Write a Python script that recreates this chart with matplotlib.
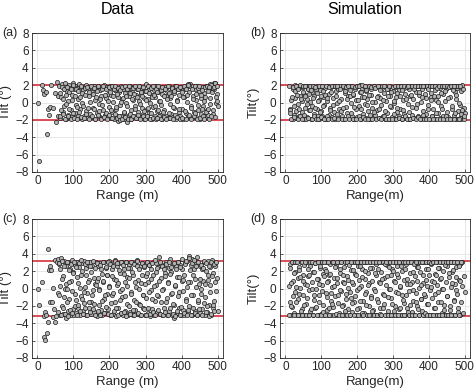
import matplotlib
matplotlib.use("Agg")
import matplotlib.pyplot as plt
import numpy as np

plt.rcParams['font.family'] = ['Liberation Sans', 'DejaVu Sans']

# ---- panel (a): measured tilt, threshold +-2 ----
a_range = [2, 4, 14, 16, 19, 24, 27, 29, 31, 34, 38, 44, 48, 52, 54, 56, 58,
           61, 63, 66, 68, 71, 73, 75, 77, 80, 82, 84, 86, 88, 91, 93, 95, 97, 99,
           101, 103, 105, 107, 110, 112, 114, 116, 118, 121, 123, 125, 127, 130, 132, 134, 136, 139, 141, 143, 146, 148,
           150, 152, 154, 157, 159, 161, 163, 166, 168, 170, 172, 174, 177, 179, 181, 183, 186, 188, 190, 192, 195, 197, 199,
           201, 203, 205, 207, 209, 211, 213, 215, 217, 219, 221, 223, 225, 227, 229, 231, 233, 235, 237, 239, 241, 243, 245, 247, 249,
           251, 253, 255, 257, 259, 261, 263, 265, 267, 269, 271, 273, 275, 277, 279, 281, 283, 285, 287, 289, 291, 293, 295, 297, 299,
           301, 303, 305, 307, 309, 311, 313, 315, 317, 319, 321, 323, 325, 327, 329, 331, 333, 335, 337, 339, 341, 343, 345, 347, 349,
           351, 353, 356, 358, 360, 362, 365, 367, 369, 371, 374, 376, 378, 380, 383, 385, 387, 389, 392, 394, 396, 398,
           401, 403, 405, 408, 410, 412, 414, 417, 419, 421, 423, 426, 428, 430, 432, 435, 437, 439, 441, 444, 446, 448,
           451, 453, 455, 457, 460, 462, 464, 466, 469, 471, 473, 475, 478, 480, 482, 484, 487, 489, 491, 493, 495, 497, 499] + \
          [62, 64, 66, 68, 70, 72, 74, 76, 78, 80,
           83, 85, 87, 89, 92, 94, 96, 98, 100, 102,
           104, 106, 109, 111, 113, 115, 117, 120, 122, 124,
           126, 128, 131, 133, 135, 137, 140, 142, 144, 147,
           149, 151, 153, 156, 158, 160, 162, 165, 167, 169,
           171, 173, 176, 178, 180, 182, 185, 187, 189, 191,
           194, 196, 198, 200, 202, 204, 206, 208, 210, 212,
           214, 216, 218, 220, 222, 224, 226, 228, 230, 232,
           234, 236, 238, 240, 242, 244, 246, 248, 250, 252,
           254, 256, 258, 260, 262, 264, 266, 268, 270, 272,
           274, 276, 278, 280, 282, 284, 286, 288, 290, 292,
           294, 296, 298, 300, 302, 304, 306, 308, 310, 312,
           314, 316, 318, 320, 322, 324, 326, 328, 330, 332,
           334, 336, 338, 340, 342, 344, 346, 348, 350, 352,
           355, 357, 359, 361, 364, 366, 368, 370, 373, 375,
           377, 379, 382, 384, 386, 388, 391, 393, 395, 397,
           400, 402, 404, 407, 409, 411, 413, 416, 418, 420,
           422, 425, 427, 429, 431, 434, 436, 438, 440, 443,
           445, 447, 449, 452, 454, 456, 459, 461, 463, 465,
           468, 470, 472, 474, 477, 479, 481, 483, 486, 488,
           490, 492, 494, 496, 498, 500, 458, 476, 418, 332]
a_tilt = [0.0, -6.7, 2.0, 1.4, 1.0, 1.2, -3.6, -0.8, -1.4, -0.5, 2.0, -0.6, 1.1, -2.2, 2.4, -1.6, 0.8,
          1.9, -1.8, 0.6, 2.1, -1.1, 1.6, -0.4, 2.2, -1.9, 1.3, 0.2, -1.4, 2.0, 1.7, -0.9, 0.9, -1.7, 2.3,
          1.5, -1.2, 1.9, -0.3, 1.7, -1.6, 0.4, 2.1, -0.8, 1.8, -1.9, 0.0, 1.4, -1.5, 1.9, -1.0, 2.0, -1.8, 1.6, 0.7, -1.3, 1.8,
          -1.7, 1.2, -0.6, 1.9, -1.9, 0.3, 1.6, -1.2, 1.9, -0.2, -1.6, 1.4, 0.8, -1.8, 1.7, -0.9, 2.0, -1.4, 0.5, 1.8, -1.7, 1.0, -0.5,
          1.9, -1.8, 0.9, -1.1, 1.7, 0.1, -1.9, 1.4, -0.7, 1.8, -1.5, 0.6, -2.1, 1.2, -0.3, 1.9, -1.6, 0.4, 1.6, -1.2, -1.9, 1.1, 0.0, 1.8, -2.2,
          1.5, -1.4, 0.7, 1.9, -0.9, -1.9, 1.2, 0.3, -1.6, 1.8, -0.4, 0.9, -1.8, 1.6, -1.1, 0.2, 1.9, -1.7, 1.0, -0.6, 1.7, -1.3, 0.5, -1.9, 1.3,
          2.1, -0.8, -1.7, 0.4, 1.6, -1.2, 0.0, 1.8, -1.9, 0.9, -0.5, 1.4, -1.6, 0.6, 1.9, -1.0, -1.8, 1.2, 0.2, -1.4, 1.7, -0.3, 1.0, -1.9, 1.5,
          -0.9, 1.8, -1.5, 0.7, 1.3, -1.8, 1.9, -0.2, 0.5, -1.3, 1.6, -1.7, 1.1, -0.6, 1.9, -1.9, 0.3, 1.5, -1.1, 0.9, -1.6, 1.8,
          -0.7, 1.4, -1.9, 0.6, 1.7, -1.2, 0.1, 2.0, -1.5, 1.2, 2.1, -0.4, -1.8, 1.9, 0.8, -1.1, 1.6, -1.7, 0.3, 1.9, -0.9, 1.3,
          -1.9, 0.5, -1.3, 1.8, -0.4, 1.1, -1.6, 0.6, 1.9, -0.9, -1.4, 1.6, 2.1, -0.2, 1.8, 1.2, -1.3, 2.2, 1.5, 2.3, -0.1, 1.0, 0.2] + \
         [-1.6, 1.1, -0.9, 1.8, -1.3, 0.4, 1.5, -1.9, 0.9, -0.2,
          1.8, -1.6, 1.2, -0.7, -1.9, 1.6, 0.3, -1.2, 2.0, -1.8,
          0.8, 1.6, -0.5, -1.9, 1.3, -1.1, 0.6, 1.9, -1.7, 1.1,
          -0.4, -1.8, 1.7, 0.9, -1.3, 1.8, -0.6, -1.9, 1.2, 0.1,
          1.9, -1.5, 1.0, -0.8, 1.7, -1.9, 0.6, 1.3, -1.4, 1.9,
          -1.0, 0.4, -1.9, 1.6, -0.3, 1.9, -1.7, 0.9, -1.2, 1.5,
          -1.9, 0.2, 1.8, -1.4, 1.2, -0.9, 1.9, -1.8, 0.7, 1.5,
          -1.3, 1.9, -0.5, -1.8, 1.0, 1.7, -1.5, -2.0, 1.4, 0.1,
          -1.9, 1.8, 0.5, -1.1, 1.9, -1.7, 0.8, -0.4, 1.6, -1.9,
          1.9, -1.3, 1.1, -1.9, 0.4, 1.7, -1.6, 1.0, -0.8, 1.9,
          -1.8, 0.6, 1.5, -1.4, 1.9, -0.2, -1.9, 1.2, 0.8, -1.6,
          1.8, -1.0, -1.9, 1.3, 0.3, -1.5, 1.9, -0.6, 1.1, -1.9,
          1.7, -1.2, 0.6, 1.9, -1.8, 0.9, -0.4, 1.6, -1.9, 1.2,
          -0.9, 1.9, -1.6, 0.2, 1.4, -1.9, 1.8, -1.1, 0.7, -1.7,
          1.6, -1.9, 0.4, 1.9, -1.2, 1.1, -1.8, 0.8, 1.7, -0.5,
          -1.9, 1.3, -1.4, 1.9, 0.2, -1.7, 1.6, -0.7, -1.9, 1.8,
          1.2, -1.8, 0.6, 1.9, -1.0, 1.6, -1.9, 0.9, 2.1, -1.4,
          1.9, -0.6, -1.9, 1.5, 0.4, -1.6, 1.9, -1.2, 1.0, -1.9,
          1.7, -0.3, 1.9, -1.8, 0.9, 1.4, -1.6, 0.2, -1.9, 1.8,
          -1.1, 1.9, -0.8, 1.3, -1.9, 0.5, 2.0, -1.5, 1.7, -0.9,
          1.8, 2.2, -1.7, 0.6, 1.9, -0.4, -0.7, 1.8, 2.0, -1.8]

# ---- panel (b): simulated tilt, threshold +-2 ----
b_range = [12, 14, 17, 20, 22, 24, 26, 28, 30, 33, 35, 37, 39, 41, 43, 45, 47, 49, 51, 53, 55, 57, 59,
           61, 63, 65, 67, 69, 71, 73, 75, 77, 79, 81, 83, 85, 87, 89, 91, 93, 95, 97, 99, 101, 103, 105, 107, 109,
           111, 114, 116, 118, 121, 123, 125, 128, 130, 132, 135, 137, 139, 142, 144, 146, 149, 151, 153, 156, 158,
           161, 163, 166, 168, 170, 172, 175, 177, 179, 182, 184, 186, 189, 191, 193, 196, 198, 200, 203, 205, 207, 209,
           211, 213, 215, 217, 220, 222, 224, 226, 229, 231, 233, 235, 238, 240, 242, 244, 247, 249, 251, 253, 256, 258,
           261, 263, 265, 268, 270, 272, 275, 277, 279, 282, 284, 286, 289, 291, 293, 296, 298, 300, 303, 305, 307, 309,
           311, 313, 316, 318, 320, 323, 325, 327, 330, 332, 334, 337, 339, 341, 344, 346, 348, 351, 353, 355, 358,
           361, 363, 365, 368, 370, 372, 375, 377, 379, 382, 384, 386, 389, 391, 393, 396, 398, 400, 403, 405, 407, 409,
           411, 413, 416, 418, 420, 423, 425, 427, 430, 432, 434, 437, 439, 441, 444, 446, 448, 451, 453, 455, 458,
           461, 463, 466, 468, 470, 473, 475, 477, 480, 482, 484, 487, 489, 491, 494, 496, 498, 500] + \
          [10, 13, 15, 18, 21, 23, 25, 27, 29, 31,
           32, 34, 36, 38, 40, 42, 44, 46, 48, 50,
           52, 54, 56, 58, 60, 62, 64, 66, 68, 70,
           72, 74, 76, 78, 80, 82, 84, 86, 88, 90,
           92, 94, 96, 98, 100, 102, 104, 106, 108, 110,
           113, 115, 117, 120, 122, 124, 127, 129, 131, 134,
           136, 138, 141, 143, 145, 148, 150, 152, 155, 157,
           160, 162, 165, 167, 169, 171, 174, 176, 178, 181,
           183, 185, 188, 190, 192, 195, 197, 199, 202, 204,
           206, 208, 210, 212, 214, 216, 219, 221, 223, 225,
           228, 230, 232, 234, 237, 239, 241, 243, 246, 248,
           250, 252, 255, 257, 260, 262, 264, 267, 269, 271,
           274, 276, 278, 281, 283, 285, 288, 290, 292, 295,
           297, 299, 302, 304, 306, 308, 310, 312, 315, 317,
           319, 322, 324, 326, 329, 331, 333, 336, 338, 340,
           343, 345, 347, 350, 352, 354, 357, 359, 362, 364,
           366, 369, 371, 373, 376, 378, 381, 383, 385, 388,
           390, 392, 395, 397, 399, 402, 404, 406, 408, 410,
           412, 415, 417, 419, 422, 424, 426, 429, 431, 433,
           436, 438, 440, 443, 445, 447, 450, 452, 454, 457,
           459, 462, 465, 467, 469, 472, 474, 476, 479, 481,
           483, 486, 488, 490, 493, 495, 497, 499, 485, 470]
b_tilt = [-0.7, -0.9, 0.3, -1.9, 1.6, -1.4, 2.0, 0.5, -1.8, 1.9, -0.2, 1.7, -1.6, 0.8, 1.9, -1.1, 0.2, 1.8, -1.9, 1.0, -0.6, 1.9, 0.4,
          -1.7, 1.5, -0.9, 1.9, 0.1, -1.9, 1.2, -0.4, 1.8, -1.3, 0.7, -1.8, 1.6, -0.7, 1.9, -1.5, 0.3, -1.9, 1.4, -1.0, 1.9, -1.6, 0.6, -0.3, -1.8,
          1.7, -1.9, 0.2, 1.9, -1.4, 1.0, -0.6, 1.8, -1.7, 0.5, 1.9, -1.1, -1.9, 1.3, 0.0, 1.6, -0.8, -1.8, 1.9, 0.4, -1.5,
          1.8, -1.9, 1.1, -0.5, 1.9, -1.2, 0.7, -1.8, 1.4, -0.1, 1.9, -1.6, 0.9, -1.9, 1.6, -0.7, 0.3, -1.7, 1.9, -0.4, 1.2, 2.0,
          -1.9, 0.6, 1.7, -1.3, 1.9, -0.2, -1.8, 1.3, 0.4, -1.0, 1.9, -1.9, 0.9, 1.6, -0.6, -1.7, 1.9, 0.1, -1.4, 1.8, -0.9, 0.7,
          1.9, -1.8, 0.5, -0.3, 1.7, -1.5, 1.1, -1.9, 1.9, 0.2, -1.2, 1.5, -1.9, 0.8, 1.9, -0.5, -1.7, 1.3, 0.0, 1.8, -1.9, 0.6,
          -1.1, 1.9, -1.6, 1.4, -0.7, 1.9, -1.9, 0.3, 1.7, -1.3, 1.0, -1.8, 1.9, -0.2, 1.5, -1.9, 0.7, 1.9, -1.4, 0.4, 1.8,
          -1.8, 1.2, -0.6, 1.9, -1.5, 0.9, 1.9, -1.9, 0.1, 1.6, -1.0, -1.7, 1.9, 0.5, -1.3, 1.8, -0.3, 1.9, -1.9, 1.1, 0.6, -1.6,
          1.9, -0.8, 1.4, -1.9, 0.3, 1.9, -1.2, 0.8, -1.8, 1.7, -0.4, 1.9, -1.6, 1.0, -1.9, 0.2, 1.5, -1.1, 1.9, -1.7, 0.6,
          1.8, -1.9, -0.7, 1.9, -1.4, 1.2, -1.9, 0.4, 1.7, -1.0, 1.9, -0.3, -1.9, 1.3, 2.0, -1.6, -0.6, -1.2] + \
         [1.9, -1.2, -1.9, 0.6, 1.8, -0.4, -1.7, 1.3, -1.0, 1.9,
          0.9, -1.9, 1.5, -0.8, 2.0, -1.6, 0.4, -1.9, 1.2, 1.9,
          -1.4, 0.7, 1.9, -1.9, -0.2, 1.6, -1.8, 1.0, 1.9, -0.9,
          1.4, -1.9, 0.5, 1.9, -1.5, -0.6, 1.8, -1.9, 1.1, 0.2,
          -1.9, 1.9, -1.1, 0.8, -1.7, 1.9, -0.4, 1.3, -1.9, 0.9,
          1.9, -1.6, 0.5, -1.9, 1.8, -0.9, 1.2, -1.9, 1.9, -0.3,
          -1.8, 1.9, 0.7, -1.3, 1.9, -1.9, 0.2, 1.6, -1.0, -1.9,
          1.9, -0.6, 1.3, -1.9, 1.8, 0.4, -1.6, 1.9, -1.9, 0.8,
          -1.2, 1.9, -1.9, 1.0, -0.5, 1.8, -1.9, 1.9, 0.3, -1.5,
          1.9, -1.9, 1.2, -0.8, 2.0, -1.7, 0.6, 1.9, -1.9, 1.4,
          -0.3, -1.9, 1.9, 0.9, -1.4, 1.8, -1.9, 0.1, 1.9, -1.1,
          1.7, -1.9, 0.6, 1.9, -1.8, -0.7, 1.4, -1.9, 1.9, 0.3,
          -1.6, 1.9, -1.0, -1.9, 1.5, 0.8, -1.9, 1.9, -0.4, 1.2,
          -1.9, 1.8, 0.2, -1.3, 1.9, -1.9, 1.1, -0.6, 1.9, -1.8,
          0.7, 1.9, -1.9, 1.4, -0.9, 1.9, -1.6, 0.4, -1.9, 1.8,
          1.9, -1.1, -1.9, 0.9, 1.9, -0.5, -1.8, 1.5, 1.9, -1.9,
          -0.2, 1.9, -1.7, 1.2, -1.9, 1.9, 0.6, -1.4, 1.9, -1.9,
          1.0, -1.9, 1.9, -0.8, 1.6, -1.9, 1.9, 0.3, -1.5, 1.9,
          -1.9, 0.8, 1.9, -1.2, -1.9, 1.7, 0.1, 1.9, -1.9, 1.1,
          1.9, -0.7, -1.9, 1.9, 1.3, -1.6, 1.9, -1.9, 0.5, 1.8,
          -1.9, 1.9, -0.4, 1.4, -1.9, 1.9, -1.2, 0.9, 1.9, -1.9,
          0.0, -1.8, 1.9, -1.3, -0.9, 1.6, -1.9, -1.5, -1.9, 1.9]

# ---- panel (c): measured tilt, threshold +-3.2 ----
c_range = [2, 5, 12, 17, 18, 20, 22, 24, 27, 29, 30, 32, 34, 36, 38, 40, 42, 44, 46, 48, 50, 52, 54,
           56, 58, 60, 62, 64, 66, 68, 70, 72, 74, 76, 78, 80, 82, 84, 86, 88, 90, 92, 94, 96, 98, 100, 102, 104,
           106, 108, 110, 112, 114, 116, 118, 120, 122, 124, 126, 128, 130, 132, 134, 136, 138, 140, 142, 144, 146, 148, 150, 152, 154,
           156, 158, 160, 162, 164, 166, 168, 170, 172, 174, 176, 178, 180, 182, 184, 186, 188, 190, 192, 194, 196, 198, 200, 202, 204,
           206, 208, 210, 212, 214, 216, 218, 220, 222, 224, 226, 228, 230, 232, 234, 236, 238, 240, 242, 244, 246, 248, 250, 252, 254,
           256, 258, 260, 262, 264, 266, 268, 270, 272, 274, 276, 278, 280, 282, 284, 286, 288, 290, 292, 294, 296, 298, 300, 302, 304,
           306, 308, 310, 312, 314, 316, 318, 320, 322, 324, 326, 328, 330, 332, 334, 336, 338, 340, 342, 344, 346, 348, 350, 352, 354,
           356, 358, 360, 362, 364, 366, 368, 370, 372, 374, 376, 378, 380, 382, 384, 386, 388, 390, 392, 394, 396, 398, 400, 402, 404,
           406, 408, 410, 412, 414, 416, 418, 420, 422, 424, 426, 428, 430, 432, 434, 436, 438, 440, 442, 444, 446, 448, 450, 452, 454,
           456, 458, 460, 462, 464, 466, 468, 470, 472, 474, 476, 478, 480, 482, 484, 486, 488, 490, 492, 494, 496, 498, 500] + \
          [57, 59, 61, 63, 65, 67, 69, 71, 73, 75,
           77, 79, 81, 83, 85, 87, 89, 91, 93, 95,
           97, 99, 101, 103, 105, 107, 109, 111, 113, 115,
           117, 119, 121, 123, 125, 127, 129, 131, 133, 135,
           137, 139, 141, 143, 145, 147, 149, 151, 153, 155,
           157, 159, 161, 163, 165, 167, 169, 171, 173, 175,
           177, 179, 181, 183, 185, 187, 189, 191, 193, 195,
           197, 199, 201, 203, 205, 207, 209, 211, 213, 215,
           217, 219, 221, 223, 225, 227, 229, 231, 233, 235,
           237, 239, 241, 243, 245, 247, 249, 251, 253, 255,
           257, 259, 261, 263, 265, 267, 269, 271, 273, 275,
           277, 279, 281, 283, 285, 287, 289, 291, 293, 295,
           297, 299, 301, 303, 305, 307, 309, 311, 313, 315,
           317, 319, 321, 323, 325, 327, 329, 331, 333, 335,
           337, 339, 341, 343, 345, 347, 349, 351, 353, 355,
           357, 359, 361, 363, 365, 367, 369, 371, 373, 375,
           377, 379, 381, 383, 385, 387, 389, 391, 393, 395,
           397, 399, 401, 403, 405, 407, 409, 411, 413, 415,
           417, 419, 421, 423, 425, 427, 429, 431, 433, 435,
           437, 439, 441, 443, 445, 447, 449, 451, 453, 455,
           457, 459, 461, 463, 465, 467, 469, 471, 473, 475,
           477, 479, 481, 483, 485, 487, 489, 491, 493, 495]
c_tilt = [0.0, -1.9, 0.7, -5.6, -3.2, -2.7, -5.9, -3.0, -5.1, -3.8, 4.5, 2.1, 2.6, -1.5, 2.1, -1.6, 0.1, -3.3, -2.4, -3.8, 3.3, -3.2, 3.1,
          3.4, -0.5, 2.8, -3.1, 0.3, 3.5, -2.0, 1.4, -2.9, 3.2, -0.1, -3.4, 2.6, 0.0, -2.6, 3.1, -1.2, 2.2, -3.0, 0.9, 3.3, -2.4, 1.9, -3.1, 2.7,
          -1.3, -2.8, 3.0, 0.6, -2.2, 2.5, -3.0, 1.6, -0.9, 2.9, -2.6, 3.2, -1.7, 0.2, 2.4, -3.1, -0.5, 2.7, -2.3, 1.0, 3.1, -2.9, -1.5, 2.6, -0.2,
          1.2, -2.7, 0.5, 3.0, -3.2, 0.9, 2.6, -1.9, 0.0, 2.9, -2.5, 1.7, -3.0, 0.7, 3.1, -1.2, -2.8, 2.4, -0.6, 1.5, -2.4, 3.2, 0.3, -3.1, 2.8,
          -0.8, 2.2, -2.9, 1.1, 3.3, -1.6, -3.2, 2.6, 0.4, -2.3, 2.9, -0.3, 1.8, -2.8, 3.0, -1.0, -3.1, 2.3, 0.8, -2.6, 3.1, -1.8, 1.3, -3.0, 2.7,
          2.4, -2.7, -0.4, 3.0, -3.1, 1.6, -1.3, 2.8, -2.5, 0.2, 3.3, -2.9, 1.0, -1.8, 2.6, -3.0, 0.6, 2.9, -2.2, -0.7, 2.5, -3.1, 1.4, -1.1, 3.0,
          -2.8, 0.8, 2.7, -3.2, -0.2, 2.3, -2.4, 1.5, 3.1, -3.0, -1.4, 2.9, 0.4, -2.7, 2.5, -0.9, 3.6, -2.9, 1.2, 2.8, -3.1, 0.0, 2.6, -2.3, 1.8,
          -1.6, 3.0, -3.0, 0.7, 2.4, -2.6, 3.4, -0.6, 1.9, -3.1, 2.8, -1.9, -3.4, 0.3, 2.6, -2.8, 1.3, 3.1, -2.2, -0.4, 2.7, -3.0, 0.9, 2.3, -2.5,
          1.6, -3.1, 2.9, -1.2, 0.2, 3.2, -2.7, 3.7, -2.0, 0.8, 2.7, -3.0, 3.4, -0.7, 2.2, -2.6, 1.1, 3.0, -3.1, 3.6, -1.5, 0.5, 2.6, -2.8, -0.1,
          2.3, -2.4, 0.9, 3.1, -3.0, -1.0, 2.0, -2.7, 1.5, 3.2, -1.9, 0.4, 2.5, -3.1, 3.3, -2.2, 1.8, -1.4, 2.9, 2.6, -0.3, 1.2, -2.6] + \
         [-2.7, 2.9, -0.8, 2.3, -3.0, 1.1, 3.2, -2.2, -1.0, 2.6,
          -2.9, 0.5, 3.0, -1.6, -3.2, 2.1, 0.8, -2.5, 2.8, -0.3,
          -2.8, 1.8, 3.1, -2.0, -0.6, 2.5, -3.1, 1.3, -1.9, 2.9,
          0.1, -2.6, 3.3, -1.2, 2.0, -2.9, -0.4, 2.8, -2.3, 1.5,
          3.0, -3.0, 0.7, -1.5, 2.6, -2.7, 1.9, -0.8, 3.2, -2.4,
          -1.8, 2.4, -3.1, 0.4, 2.9, -2.6, 1.2, -0.2, 2.7, -3.0,
          2.2, -1.4, 0.9, 3.1, -2.8, -0.7, 2.5, -2.1, 1.6, 3.0,
          -2.9, 0.2, 2.8, -1.7, -3.1, 1.4, 2.6, -0.5, -2.6, 3.2,
          1.0, -2.3, 2.9, -3.0, 0.6, 2.1, -1.3, 3.1, -2.8, -0.1,
          2.7, -2.7, 1.7, -0.9, 3.0, -3.2, 0.3, 2.4, -2.0, 1.2,
          -2.9, 3.1, -0.6, 1.9, -2.5, 2.8, -3.0, 0.8, -1.5, 2.6,
          3.2, -2.8, 0.0, 2.2, -1.9, -3.1, 1.5, 2.9, -0.8, -2.4,
          2.6, 0.5, -3.0, 1.8, 3.1, -2.2, -0.4, 2.7, -2.9, 1.1,
          -1.2, 2.9, -2.7, 0.3, 3.3, -3.0, 1.9, -0.7, 2.4, -2.5,
          0.9, 3.0, -2.9, -1.6, 2.6, -0.2, -3.1, 2.2, 1.4, -2.7,
          2.8, -1.1, 0.6, -3.0, 3.1, -2.3, 1.7, 2.5, -0.5, -2.9,
          -1.8, 2.9, -3.2, 0.4, 2.3, -2.6, 3.0, -0.9, 1.3, -3.0,
          2.5, -2.1, 3.4, -0.3, 1.0, -2.8, 2.8, -1.4, 3.2, -3.1,
          0.7, -2.5, 3.5, 2.1, -3.0, -0.8, 2.9, -2.2, 1.6, 3.3,
          -2.8, 0.2, 2.6, -3.1, -1.3, 3.0, -2.4, 1.1, 2.7, -0.6,
          -3.0, 2.4, -1.7, 3.2, 0.5, -2.7, 2.9, -2.0, 1.0, -3.2,
          2.6, -0.4, -2.9, 3.0, 1.4, -1.9, 2.8, -2.6, 0.8, 3.1]

# ---- panel (d): simulated tilt, threshold +-3.2 ----
d_range = [10, 12, 14, 16, 18, 20, 22, 24, 26, 28, 30, 32, 34, 36, 38, 40, 42, 44, 46, 48, 50, 52, 54, 56, 58,
           60, 62, 64, 66, 68, 70, 72, 74, 76, 78, 80, 82, 84, 86, 88, 90, 92, 94, 96, 98, 100, 102, 104, 106, 108,
           110, 112, 114, 116, 118, 120, 122, 124, 126, 128, 130, 132, 134, 136, 138, 140, 142, 144, 146, 148, 150, 152, 154, 156, 158,
           160, 162, 164, 166, 168, 170, 172, 174, 176, 178, 180, 182, 184, 186, 188, 190, 192, 194, 196, 198, 200, 202, 204, 206, 208,
           210, 212, 214, 216, 218, 220, 222, 224, 226, 228, 230, 232, 234, 236, 238, 240, 242, 244, 246, 248, 250, 252, 254, 256, 258,
           260, 262, 264, 266, 268, 270, 272, 274, 276, 278, 280, 282, 284, 286, 288, 290, 292, 294, 296, 298, 300, 302, 304, 306, 308,
           310, 312, 314, 316, 318, 320, 322, 324, 326, 328, 330, 332, 334, 336, 338, 340, 342, 344, 346, 348, 350, 352, 354, 356, 358,
           360, 362, 364, 366, 368, 370, 372, 374, 376, 378, 380, 382, 384, 386, 388, 390, 392, 394, 396, 398, 400, 402, 404, 406, 408,
           410, 412, 414, 416, 418, 420, 422, 424, 426, 428, 430, 432, 434, 436, 438, 440, 442, 444, 446, 448, 450, 452, 454, 456, 458,
           460, 462, 464, 466, 468, 470, 472, 474, 476, 478, 480, 482, 484, 486, 488, 490, 492, 494, 496, 498, 500] + \
          [11, 13, 15, 17, 19, 21, 23, 25, 27, 29,
           31, 33, 35, 37, 39, 41, 43, 45, 47, 49,
           51, 53, 55, 57, 59, 61, 63, 65, 67, 69,
           71, 73, 75, 77, 79, 81, 83, 85, 87, 89,
           91, 93, 95, 97, 99, 101, 103, 105, 107, 109,
           111, 113, 115, 117, 119, 121, 123, 125, 127, 129,
           131, 133, 135, 137, 139, 141, 143, 145, 147, 149,
           151, 153, 155, 157, 159, 161, 163, 165, 167, 169,
           171, 173, 175, 177, 179, 181, 183, 185, 187, 189,
           191, 193, 195, 197, 199, 201, 203, 205, 207, 209,
           211, 213, 215, 217, 219, 221, 223, 225, 227, 229,
           231, 233, 235, 237, 239, 241, 243, 245, 247, 249,
           251, 253, 255, 257, 259, 261, 263, 265, 267, 269,
           271, 273, 275, 277, 279, 281, 283, 285, 287, 289,
           291, 293, 295, 297, 299, 301, 303, 305, 307, 309,
           311, 313, 315, 317, 319, 321, 323, 325, 327, 329,
           331, 333, 335, 337, 339, 341, 343, 345, 347, 349,
           351, 353, 355, 357, 359, 361, 363, 365, 367, 369,
           371, 373, 375, 377, 379, 381, 383, 385, 387, 389,
           391, 393, 395, 397, 399, 401, 403, 405, 407, 409,
           411, 413, 415, 417, 419, 421, 423, 425, 427, 429,
           431, 433, 435, 437, 439, 441, 443, 445, 447, 449,
           451, 453, 455, 457, 459, 461, 463, 465, 467, 469,
           471, 473, 475, 477, 479, 481, 483, 485, 487, 489]
d_tilt = [0.3, -1.6, 2.8, -3.1, -2.1, 3.1, 0.9, -2.8, 1.9, -0.4, 3.1, -3.1, 1.2, -1.2, 2.5, -3.0, 0.1, 3.1, -2.4, 1.6, -0.7, -3.1, 2.9, 0.5, -1.8,
          3.1, -3.0, 1.4, -0.2, 2.6, -2.6, 3.1, 0.7, -3.1, 1.9, -1.3, 2.9, -2.2, 0.0, 3.1, -3.1, 1.1, -0.8, 2.4, -2.9, 3.0, 0.4, -1.9, 1.7, -3.1,
          2.2, -0.5, 3.1, -2.5, 0.9, -3.0, 1.5, 2.8, -1.4, -3.1, 0.2, 3.1, -2.1, 1.2, -0.9, 2.6, -3.1, 0.6, 3.0, -1.7, -2.8, 1.8, -0.3, 3.1, -3.0,
          0.8, -1.9, 2.5, -3.1, 3.1, -0.6, 1.4, -2.4, 0.1, 3.0, -3.1, -1.1, 2.1, -2.7, 3.1, 0.5, -1.6, 1.7, -3.0, 3.1, -0.2, 2.6, -2.2, 1.0, 3.1,
          -3.1, 0.3, 2.2, -1.4, 3.1, -2.8, 1.1, -0.4, 3.0, -3.1, 1.8, -2.0, 0.6, 3.1, -3.0, -0.9, 2.4, -2.5, 3.1, 0.0, -3.1, 1.5, 2.8, -1.2, -3.0,
          3.1, 0.7, -2.3, 1.9, -3.1, 3.0, -0.6, 1.2, -1.8, 3.1, -3.1, 0.4, 2.7, -2.6, -0.1, 3.1, -3.0, 1.6, -1.1, 2.3, -3.1, 0.9, 3.1, -2.0, -0.4,
          2.6, -3.1, 1.3, 3.1, -2.4, 0.2, -3.0, 2.0, -0.8, 3.1, -1.7, 1.0, -3.1, 2.8, 0.5, -2.2, 3.1, -3.1, -0.3, 1.8, 3.0, -2.7, 0.8, -1.4, 3.1,
          -3.1, 1.4, -0.5, 2.5, -2.0, 3.1, 0.1, -3.1, 1.9, -1.2, 3.0, -2.6, 0.6, 3.1, -3.1, -0.9, 2.2, -1.8, 0.3, 3.1, -3.0, 1.6, -0.2, 2.8, -3.1,
          0.9, 3.1, -2.3, -0.6, 1.7, -3.1, 3.0, 0.4, -1.5, 2.4, -3.1, 1.1, 3.1, -2.8, -0.1, 2.0, -1.9, 3.1, -3.1, 0.7, -0.9, 2.6, -3.0, 1.3, 3.1,
          -2.5, 0.2, -3.1, 1.9, 3.1, -1.3, 0.5, -3.0, 2.5, -0.6, 3.1, -2.2, 1.0, -3.1, 2.8, -1.6, 0.3, 3.1, -2.8, 1.4, -0.4] + \
         [-3.1, 2.4, 0.6, -2.0, 3.1, -0.9, 1.8, -3.0, 3.1, -1.5,
          0.2, 3.0, -3.1, 2.1, -0.6, 1.3, -2.6, 3.1, -3.1, 0.9,
          2.7, -1.9, 3.1, -3.1, 0.4, -1.1, 2.3, -3.0, 1.6, 3.1,
          -2.4, 0.0, 3.1, -3.1, 1.9, -0.7, 2.9, -2.1, -3.1, 1.1,
          3.1, -1.6, 0.5, 2.6, -3.1, 3.0, -0.3, -2.7, 1.4, 3.1,
          -3.1, 2.0, -1.0, 0.8, 3.1, -2.3, -3.0, 1.7, -0.5, 3.1,
          -1.8, 3.1, -3.1, 0.3, 2.5, -2.9, 1.2, 3.0, -0.8, -3.1,
          2.2, -0.2, 3.1, -2.0, -3.1, 1.6, 0.6, 3.1, -2.6, -1.2,
          3.1, -3.1, 1.0, 2.7, -0.4, -3.0, 3.1, -1.7, 0.7, 2.1,
          -3.1, 3.1, -0.9, 1.5, -2.4, 3.0, -3.1, 0.1, 2.6, -1.4,
          3.1, -2.8, 1.3, -3.1, 3.1, -0.6, 2.0, -1.9, -3.0, 3.1,
          0.4, -3.1, 2.4, 3.1, -1.1, -2.6, 0.9, 3.1, -3.1, 1.8,
          -0.3, 3.0, -3.1, 2.2, -1.6, 3.1, 0.6, -2.9, -3.1, 1.1,
          3.1, -2.2, -0.7, 2.8, -3.1, 3.1, 1.4, -1.0, -3.0, 2.5,
          0.0, 3.1, -3.1, -1.8, 2.0, 3.0, -2.6, 0.8, -3.1, 3.1,
          1.7, -0.5, -3.1, 3.1, -2.2, 0.3, 2.6, -3.0, 3.1, -1.3,
          -3.1, 2.3, 3.1, -0.8, 1.1, -2.7, 3.0, -3.1, 0.5, -1.9,
          3.1, -3.0, 1.9, -0.2, 2.8, -3.1, 3.1, -1.5, 0.9, -2.4,
          2.5, -3.1, 3.1, 0.4, -1.2, 3.0, -3.1, 1.6, -0.6, -2.8,
          3.1, 1.0, -3.1, 2.2, -1.8, 3.1, -3.0, 0.2, 2.9, -1.1,
          -3.1, 3.1, 0.7, -2.3, 1.5, 3.0, -3.1, -0.4, 2.4, -3.1,
          3.1, -1.6, 1.2, -3.0, 3.1, 0.0, -2.5, 2.7, -3.1, 3.1,
          -0.9, -3.1, 3.0, 1.8, -2.0, 3.1, -3.1, 0.6, 2.1, -1.4,
          3.1, -3.1, 1.3, -0.2, 3.0, -2.7, -3.1, 2.6, 0.9, 3.1]

thresholds = [2.0, 2.0, 3.2, 3.2]
panel_tags = ['(a)', '(b)', '(c)', '(d)']
x_labels = ['Range (m)', 'Range(m)', 'Range (m)', 'Range(m)']
y_labels = ['Tilt (°)', 'Tilt(°)', 'Tilt (°)', 'Tilt(°)']
col_titles = ['Data', 'Simulation']

W, H = 474, 391
fig = plt.figure(figsize=(W / 100, H / 100), dpi=100)

# axes boxes in pixels (left, top, right, bottom)
boxes = [(32, 33, 223, 172), (280, 33, 470, 172),
         (32, 219, 223, 358), (280, 219, 470, 358)]
datasets = [(a_range, a_tilt), (b_range, b_tilt), (c_range, c_tilt), (d_range, d_tilt)]

for i, (l, t, r, b) in enumerate(boxes):
    ax = fig.add_axes([l / W, 1 - b / H, (r - l) / W, (b - t) / H])
    xs, ys = datasets[i]
    ax.grid(True, color='#e3e3e3', linewidth=0.6, zorder=0)
    ax.axhline(thresholds[i], color='#d8404c', linewidth=1.3, zorder=2)
    ax.axhline(-thresholds[i], color='#d8404c', linewidth=1.3, zorder=2)
    ax.scatter(xs, ys, s=9, facecolor='#b3b3b3', edgecolor='#1a1a1a',
               linewidth=0.5, zorder=3)
    ax.set_xlim(-15, 515)
    ax.set_ylim(-8, 8)
    ax.set_xticks([0, 100, 200, 300, 400, 500])
    ax.set_yticks(np.arange(-8, 9, 2))
    ax.tick_params(direction='in', length=2.5, width=0.5, labelsize=8.5,
                   colors='#262626', pad=2.5)
    for sp in ax.spines.values():
        sp.set_linewidth(0.6)
        sp.set_color('#262626')
    ax.set_axisbelow(True)
    ax.set_xlabel(x_labels[i], fontsize=9.5, labelpad=1.5, color='#262626')
    ax.set_ylabel(y_labels[i], fontsize=9.5, labelpad=2, color='#262626')
    fig.text((l - 30) / W, 1 - t / H, panel_tags[i], fontsize=9,
             ha='left', va='center', color='#262626')

fig.text(118 / W, 1 - 9 / H, col_titles[0], fontsize=11.5, ha='center', va='center')
fig.text(365 / W, 1 - 9 / H, col_titles[1], fontsize=11.5, ha='center', va='center')

fig.savefig('out.png', dpi=100)
